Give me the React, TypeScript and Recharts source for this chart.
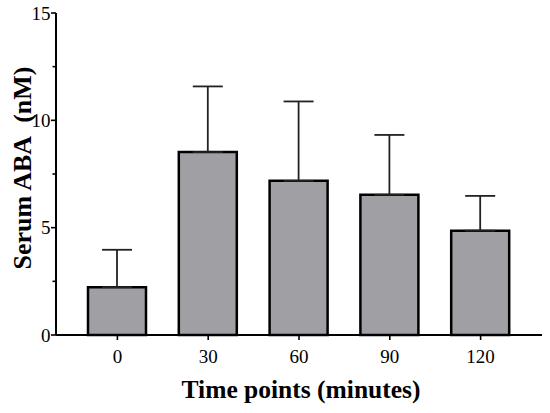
import { BarChart, Bar, XAxis, YAxis, ErrorBar } from 'recharts';

const timePoints = ['0', '30', '60', '90', '120'];
const serumAba = [2.23, 8.52, 7.18, 6.53, 4.86];
const serumAbaSd = [1.74, 3.06, 3.7, 2.79, 1.62];
const yTicks = [0, 2.5, 5, 7.5, 10, 12.5, 15];

const FONT = "'Liberation Serif', 'DejaVu Serif', serif";

const data = timePoints.map((t, i) => ({
  time: t,
  aba: serumAba[i],
  err: [0, serumAbaSd[i]],
}));

function YTick(props: any) {
  const { x, y, payload } = props;
  const major = payload.value % 5 === 0;
  const axisX = x + 5;
  return (
    <g>
      <line x1={axisX - (major ? 5 : 3.5)} x2={axisX} y1={y} y2={y} stroke="#000" strokeWidth={1.6} />
      {major && (
        <text x={x - 0.5} y={y} dy="0.35em" textAnchor="end" style={{ fontFamily: FONT, fontSize: 19 }} fill="#000">
          {payload.value}
        </text>
      )}
    </g>
  );
}

function XTick(props: any) {
  const { x, y, payload } = props;
  return (
    <text x={x} y={y} dy="0.71em" textAnchor="middle" style={{ fontFamily: FONT, fontSize: 19 }} fill="#000">
      {payload.value}
    </text>
  );
}

function YLabel(props: any) {
  const { viewBox } = props;
  const cx = 22;
  const cy = viewBox.y + viewBox.height / 2 - 6;
  return (
    <text
      x={cx}
      y={cy}
      transform={`rotate(-90 ${cx} ${cy})`}
      textAnchor="middle"
      dominantBaseline="central"
      style={{ fontFamily: FONT, fontSize: 26, fontWeight: 'bold' }}
      fill="#000"
    >
      {'Serum ABA\u00a0 (nM)'}
    </text>
  );
}

function XLabel(props: any) {
  const { viewBox } = props;
  return (
    <text
      x={viewBox.x + viewBox.width / 2 + 2}
      y={398}
      textAnchor="middle"
      style={{ fontFamily: FONT, fontSize: 25.5, fontWeight: 'bold' }}
      fill="#000"
    >
      Time points (minutes)
    </text>
  );
}

export default function App() {
  return (
    <div style={{ position: 'absolute', left: 0, top: 0, width: 550, height: 413, background: '#fff' }}>
      <BarChart width={550} height={413} data={data} margin={{ top: 13, right: 8, left: 0, bottom: 0 }}>
        <XAxis
          dataKey="time"
          height={78}
          padding={{ left: 16, right: 16 }}
          axisLine={{ stroke: '#000', strokeWidth: 2 }}
          tickLine={{ stroke: '#000', strokeWidth: 1.6 }}
          tickSize={5}
          tickMargin={10}
          tick={<XTick />}
          label={<XLabel />}
        />
        <YAxis
          width={56}
          domain={[0, 15]}
          ticks={yTicks}
          interval={0}
          axisLine={{ stroke: '#000', strokeWidth: 2 }}
          tickLine={false}
          tickSize={5}
          tickMargin={0}
          tick={<YTick />}
          label={<YLabel />}
        />
        <Bar dataKey="aba" fill="#a09fa4" stroke="#000" strokeWidth={2.5} barSize={58} isAnimationActive={false}>
          <ErrorBar dataKey="err" direction="y" width={15} stroke="#222" strokeWidth={1.8} />
        </Bar>
      </BarChart>
    </div>
  );
}
